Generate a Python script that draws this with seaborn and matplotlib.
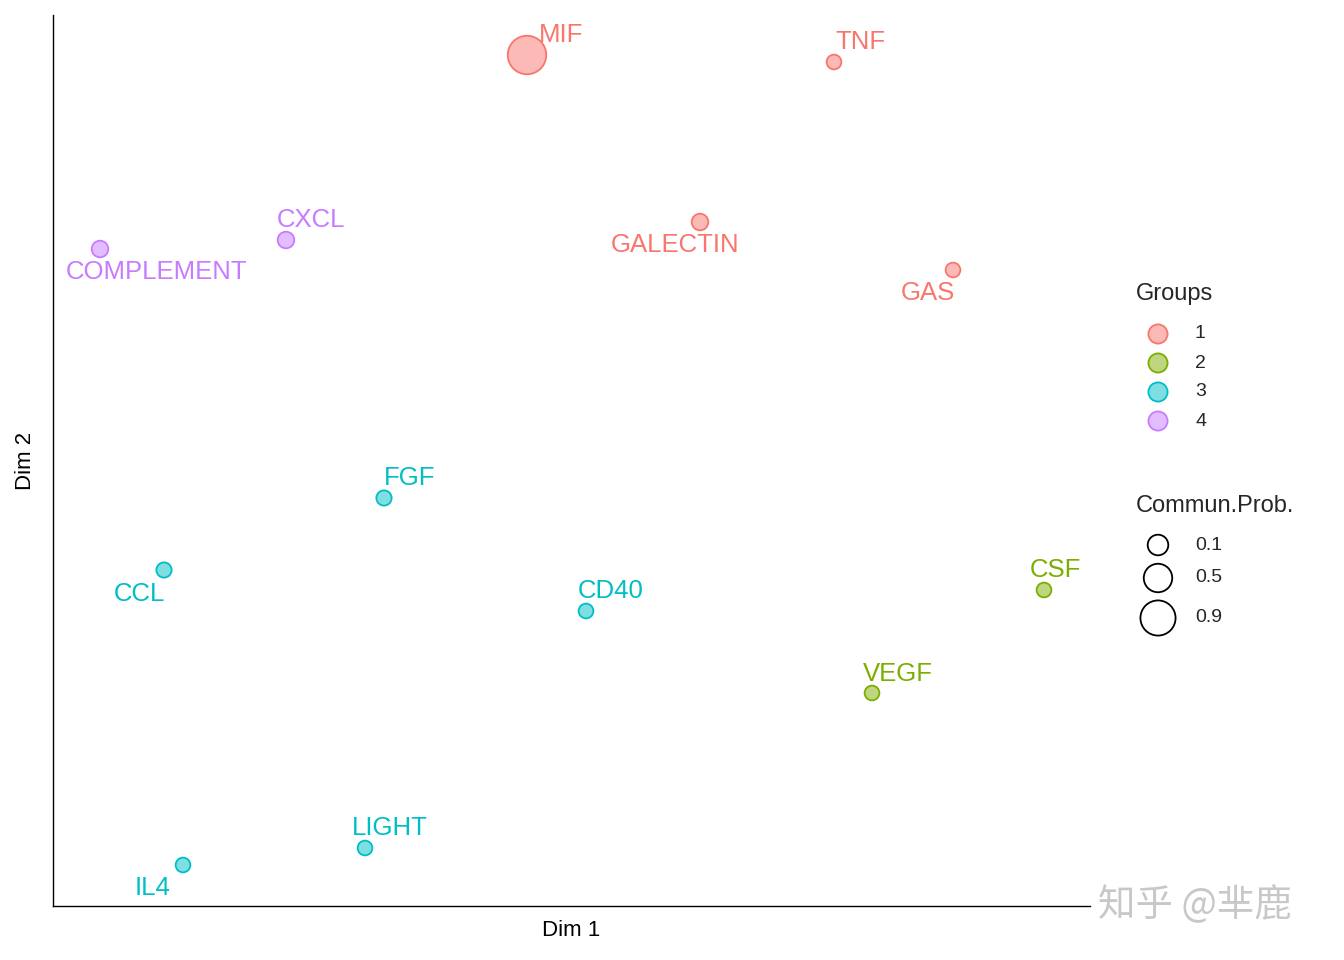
import numpy as np
import pandas as pd
import matplotlib
matplotlib.use("Agg")
import matplotlib.pyplot as plt
import seaborn as sns

# values (embedding coords, arbitrary units)
pathways = ["MIF", "TNF", "GALECTIN", "GAS", "CXCL", "COMPLEMENT", "FGF",
            "CCL", "CD40", "CSF", "VEGF", "LIGHT", "IL4"]
dim1 = [527, 834, 700, 953, 286, 100, 384, 164, 586, 1044, 872, 365, 183]
dim2 = [905, 898, 738, 690, 720, 711, 462, 390, 349, 370, 267, 112, 95]
groups = ["1", "1", "1", "1", "4", "4", "3", "3", "3", "2", "2", "3", "3"]
prob = [0.9, 0.03, 0.07, 0.03, 0.07, 0.07, 0.04, 0.04, 0.03, 0.03, 0.03, 0.03, 0.03]
label_offsets = [(34, 20), (26, 20), (-25, -23), (-25, -23), (25, 20), (57, -23),
                 (26, 20), (-25, -24), (25, 20), (11, 20), (26, 19), (25, 20), (-30, -23)]
prob_breaks = [0.1, 0.5, 0.9]
group_levels = ["1", "2", "3", "4"]
palette = dict(zip(group_levels, ["#F8766D", "#7CAE00", "#00BFC4", "#C77CFF"]))

df = pd.DataFrame({"Dim1": dim1, "Dim2": dim2, "group": groups, "prob": prob})

def size_of(p):
    return 90 + 680 * p / 0.9

sns.set_style("white")
plt.rcParams["font.family"] = ["Liberation Sans", "Noto Sans CJK SC", "DejaVu Sans"]

fig = plt.figure(figsize=(13.44, 9.6), dpi=100)
ax = fig.add_axes([53 / 1344, 54 / 960, 1037 / 1344, 891 / 960])

for g in group_levels:
    sub = df[df.group == g]
    ax.scatter(sub.Dim1, sub.Dim2, s=[size_of(p) for p in sub.prob],
               facecolor=palette[g], alpha=0.5, edgecolor="none", zorder=2)
sns.scatterplot(data=df, x="Dim1", y="Dim2", hue="group", palette=palette,
                size="prob", sizes=(size_of(0), size_of(0.9)), size_norm=(0, 0.9),
                facecolor="none", linewidth=1.3, legend=False, ax=ax, zorder=3)
coll = ax.collections[-1]
coll.set_edgecolor([palette[g] for g in groups])
coll.set_facecolor("none")

for name, x, y, g, (dx, dy) in zip(pathways, dim1, dim2, groups, label_offsets):
    ax.annotate(name, (x, y), xytext=(dx * 0.72, dy * 0.72), textcoords="offset points",
                ha="center", va="center", color=palette[g], fontsize=18.5)

ax.set_xlim(53, 1090)
ax.set_ylim(54, 945)
ax.set_xticks([])
ax.set_yticks([])
for s in ["top", "right"]:
    ax.spines[s].set_visible(False)
for s in ["left", "bottom"]:
    ax.spines[s].set_color("black")
    ax.spines[s].set_linewidth(1)
ax.set_xlabel("Dim 1", fontsize=16, labelpad=10, color="black")
ax.set_ylabel("Dim 2", fontsize=16, labelpad=12, color="black")

# legends drawn on an overlay in pixel space
lg = fig.add_axes([0, 0, 1, 1], facecolor="none")
lg.set_xlim(0, 1344)
lg.set_ylim(960, 0)
lg.axis("off")
lg.text(1136, 294, "Groups", fontsize=17, va="center")
for i, g in enumerate(group_levels):
    y = 334 + 29 * i
    lg.scatter(1158, y, s=190, facecolor=palette[g], alpha=0.5, edgecolor="none")
    lg.scatter(1158, y, s=190, facecolor="none", edgecolor=palette[g], linewidth=1.3)
    lg.text(1195, y, g, fontsize=14, va="center")
lg.text(1136, 506, "Commun.Prob.", fontsize=17, va="center")
for y, s, p in zip([545, 578, 618], [220, 420, 640], prob_breaks):
    lg.scatter(1158, y, s=s, facecolor="none", edgecolor="black", linewidth=1.3)
    lg.text(1195, y, f"{p}", fontsize=14, va="center")

fig.text(1098 / 1344, 1 - 906 / 960, "知乎 @芈鹿", fontsize=27, color="#c8c8c8",
         va="center", family=["Noto Sans CJK SC", "DejaVu Sans"])

fig.savefig("out.png", dpi=100)
